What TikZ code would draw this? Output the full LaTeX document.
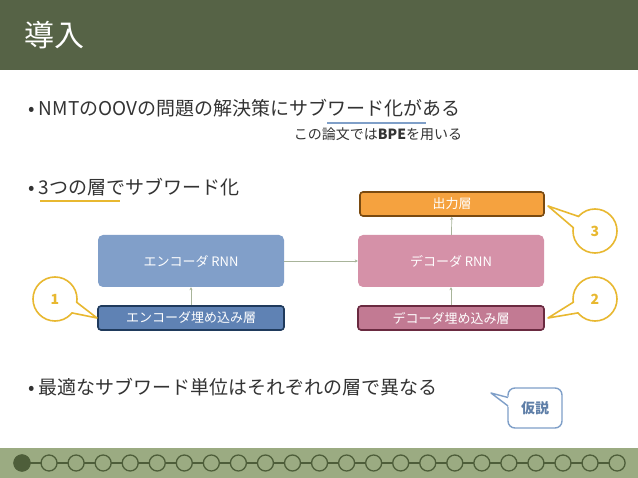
\documentclass[tikz,border=0pt]{standalone}
\usepackage{fontspec}
\setmainfont{Noto Sans CJK JP}
\usetikzlibrary{arrows.meta,calc}
\definecolor{titlebar}{HTML}{566346}
\definecolor{footbar}{HTML}{9BAB82}
\definecolor{footdark}{HTML}{4E5E3A}
\definecolor{txt}{HTML}{333333}
\definecolor{callY}{HTML}{E8B830}
\definecolor{encF}{HTML}{819FC9}
\definecolor{encE}{HTML}{5F82B4}
\definecolor{encB}{HTML}{1F3A5C}
\definecolor{decF}{HTML}{D591A8}
\definecolor{decE}{HTML}{C27A93}
\definecolor{decB}{HTML}{6A2A40}
\definecolor{outF}{HTML}{F5A23F}
\definecolor{outB}{HTML}{7A4A10}
\definecolor{arr}{HTML}{A8B49A}
\definecolor{hyp}{HTML}{7F9FC8}
\definecolor{hypT}{HTML}{5F7FA8}
\tikzset{
 bigbox/.style={rounded corners=5pt, minimum width=186pt, minimum height=52pt, text=white, font=\fontsize{13}{15}\selectfont, inner sep=0pt},
 smallbox/.style={rounded corners=3pt, minimum width=186pt, minimum height=24pt, text=white, font=\fontsize{13}{15}\selectfont, line width=1.6pt, inner sep=0pt},
 callcirc/.style={circle, draw=callY, line width=1.6pt, fill=white, minimum size=44pt, text=callY, font=\fontsize{14}{16}\selectfont\bfseries, inner sep=0pt},
 conn/.style={draw=arr, line width=0.7pt, -{Stealth[length=3pt,width=3pt]}},
 bul/.style={anchor=west, text=txt, font=\fontsize{19}{22}\selectfont, inner sep=0pt}
}
\begin{document}
\begin{tikzpicture}[x=1pt,y=-1pt]
\useasboundingbox (0,0) rectangle (638,478);
\fill[white] (0,0) rectangle (638,478);
\fill[titlebar] (0,0) rectangle (638,70);
\node[anchor=west, text=white, font=\fontsize{30}{34}\selectfont, inner sep=0pt] (title) at (24,35) {導入};
% bullets
\node[bul] (b1) at (28,108) {• NMTのOOVの問題の解決策にサブワード化がある};
\draw[hyp, line width=1.2pt] (327,123) -- (426,123);
\node[text=txt, font=\fontsize{14}{16}\selectfont, inner sep=0pt] (note) at (378,134) {この論文では\textbf{BPE}を用いる};
\node[bul] (b2) at (28,187) {• 3つの層でサブワード化};
\draw[callY, line width=1.6pt] (40,201) -- (120,201);
\node[bul] (b3) at (28,387) {• 最適なサブワード単位はそれぞれの層で異なる};
% boxes
\node[bigbox, fill=encF] (enc) at (191,261) {エンコーダ RNN};
\node[bigbox, fill=decF] (dec) at (451,261) {デコーダ RNN};
\node[smallbox, fill=encE, draw=encB] (encemb) at (191,318) {エンコーダ埋め込み層};
\node[smallbox, fill=decE, draw=decB] (decemb) at (451,318) {デコーダ埋め込み層};
\node[smallbox, fill=outF, draw=outB, minimum width=184pt] (out) at (452,204) {出力層};
\draw[conn] (encemb) -- (enc);
\draw[conn] (decemb) -- (dec);
\draw[conn] (enc) -- (dec);
\draw[conn] (dec) -- (out);
% callouts
\node[callcirc] (c1) at (55,299) {1};
\node[callcirc] (c2) at (595,299) {2};
\node[callcirc] (c3) at (595,231) {3};
\foreach \c/\a/\b/\tx/\ty in {c1/8/40/97/318, c2/140/172/548/318, c3/188/222/548/206}{
  \coordinate (tip) at (\tx,\ty);
  \fill[white] ($(\c)+(\a:20.5)$) -- (tip) -- ($(\c)+(\b:20.5)$) -- cycle;
  \draw[callY, line width=1.6pt, line join=round] ($(\c)+(\a:21.5)$) -- (tip) -- ($(\c)+(\b:21.5)$);
}
% hypothesis callout
\node[draw=hyp, line width=1.4pt, rounded corners=7pt, fill=white, minimum width=54pt, minimum height=40pt, text=hypT, font=\fontsize{14}{16}\selectfont\bfseries, inner sep=0pt] (hy) at (535,408) {仮説};
\coordinate (htip) at (491,393);
\fill[white] (509,397) -- (htip) -- (509,407) -- cycle;
\draw[hyp, line width=1.4pt, line join=round] (508,397.5) -- (htip) -- (508,406);
% footer
\fill[footbar] (0,448) rectangle (638,478);
\draw[footdark, line width=1.3pt] (22,463) -- (617,463);
\foreach \i in {0,...,22}{
  \node[circle, draw=footdark, line width=1.3pt, fill=footbar, minimum size=16pt, inner sep=0pt] (f\i) at ({22+\i*27.05},463) {};
}
\fill[footdark] (f0) circle (8.6pt);
\end{tikzpicture}
\end{document}
